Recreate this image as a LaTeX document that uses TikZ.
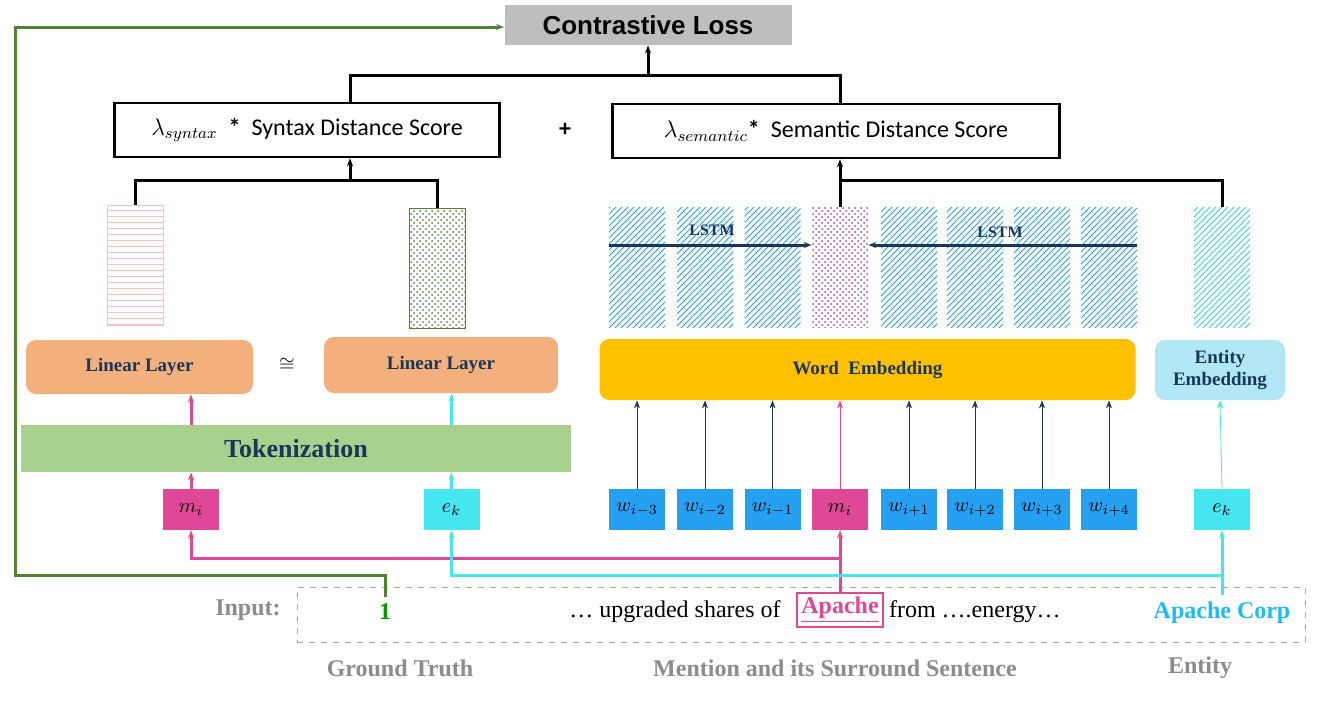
\documentclass[tikz,border=0pt]{standalone}
\usepackage{fontspec}
\setmainfont{Liberation Serif}
\newfontfamily\sansf{Liberation Sans}
\newfontfamily\calf{Carlito}
\usetikzlibrary{patterns,arrows.meta}
\definecolor{lossgray}{RGB}{190,190,190}
\definecolor{tgreen}{RGB}{84,130,53}
\definecolor{mpink}{RGB}{222,72,150}
\definecolor{ecyan}{RGB}{70,230,240}
\definecolor{wblue}{RGB}{38,160,240}
\definecolor{darkb}{RGB}{25,55,90}
\definecolor{linorange}{RGB}{244,176,124}
\definecolor{tokgreen}{RGB}{169,209,142}
\definecolor{embyellow}{RGB}{255,192,0}
\definecolor{entblue}{RGB}{178,232,246}
\definecolor{labgray}{RGB}{140,140,140}
\definecolor{violet2}{RGB}{150,70,180}
\begin{document}
\begin{tikzpicture}[x=0.5pt,y=-0.5pt]
    % 样式
    \tikzset{
        score/.style={draw=black, line width=1.2pt, fill=white, minimum height=27pt, font=\calf\fontsize{12}{14}\selectfont},
        layer/.style={rounded corners=5pt, draw=none, font=\bfseries\fontsize{9.5}{11}\selectfont, text=darkb},
        vec/.style={minimum width=28pt, minimum height=60pt, inner sep=0pt},
        tok/.style={minimum width=28pt, minimum height=20.5pt, inner sep=0pt, font=\fontsize{10}{12}\selectfont},
        lab/.style={font=\bfseries\fontsize{12}{14}\selectfont, text=labgray},
        tree/.style={draw=black, line width=1.5pt},
        up/.style={-{Stealth[length=4pt]}},
    }
    \path[use as bounding box] (0,0) rectangle (1318,703);

    % 损失
    \node[fill=lossgray, minimum width=143.5pt, minimum height=20pt, font=\sansf\bfseries\fontsize{13}{15}\selectfont] (loss) at (648,25) {Contrastive Loss};
    \node[score, minimum width=192.5pt] (syn) at (307,130) {$\lambda_{syntax}$ \ \textbf{*} \ Syntax Distance Score};
    \node[score, minimum width=223.5pt] (sem) at (836,131) {$\lambda_{semantic}$\textbf{*} \ Semantic Distance Score};
    \node[font=\calf\bfseries\fontsize{12}{14}\selectfont] (plus) at (565,130) {+};
    \draw[tree] (syn.north -| 350,0) -- (350,75) -- (840,75) -- (sem.north -| 840,0);
    \draw[tree, up] (648,75) -- (loss.south);

    % 句法向量
    \node[vec, draw=pink, pattern=horizontal lines, pattern color=pink] (vm) at (135,265) {};
    \node[vec, draw=tgreen, pattern=crosshatch dots, pattern color=tgreen] (ve) at (437,268) {};
    \draw[tree] (vm.north) -- (135,180) -- (437,180) -- (ve.north);
    \draw[tree, up] (350,180) -- (syn.south -| 350,0);

    % 线性层
    \node[layer, fill=linorange, minimum width=113.5pt, minimum height=27pt] (lin1) at (139.5,367) {Linear Layer};
    \node[layer, fill=linorange, minimum width=117pt, minimum height=28pt] (lin2) at (441,365) {Linear Layer};
    \node[inner sep=0pt] (cong) at (287,365) {$\cong$};
    \node[fill=tokgreen, minimum width=275pt, minimum height=23.5pt, font=\bfseries\fontsize{13}{15}\selectfont, text=darkb] (tokz) at (296,448.5) {Tokenization};
    \node[tok, fill=mpink] (tm) at (191,509.5) {$m_i$};
    \node[tok, fill=ecyan] (te) at (451.5,509.5) {$e_k$};
    \draw[mpink, line width=1.5pt, up] (tm.north) -- (tm.north |- tokz.south);
    \draw[ecyan, line width=1.5pt, up] (te.north) -- (te.north |- tokz.south);
    \draw[mpink, line width=1.5pt, up] (tm.north |- tokz.north) -- (tm.north |- lin1.south);
    \draw[ecyan, line width=1.5pt, up] (te.north |- tokz.north) -- (te.north |- lin2.south);

    % 语义部分
    \node[layer, fill=embyellow, minimum width=268pt, minimum height=30.5pt] (wemb) at (867.5,369.5) {Word\ \ Embedding};
    \node[layer, fill=entblue, minimum width=65pt, minimum height=30pt, align=center] (eemb) at (1220,370) {Entity\\Embedding};
    \foreach \cx/\lbl/\n in {637/{i-3}/1, 705/{i-2}/2, 772.5/{i-1}/3, 909/{i+1}/5, 975/{i+2}/6, 1042/{i+3}/7, 1109/{i+4}/8} {
        \node[vec, pattern=north east lines, pattern color=wblue] (h\n) at (\cx,267) {};
        \node[tok, fill=wblue] (w\n) at (\cx,509.5) {$w_{\lbl}$};
        \draw[darkb, up] (w\n.north) -- (w\n.north |- wemb.south);
    }
    \node[vec, pattern=crosshatch dots, pattern color=violet2] (h4) at (840,267) {};
    \node[tok, fill=mpink] (w4) at (840,509.5) {$m_i$};
    \draw[mpink, up] (w4.north) -- (w4.north |- wemb.south);
    \node[vec, pattern=north east lines, pattern color=ecyan!80!teal] (hent) at (1222,267) {};
    \node[tok, fill=ecyan] (went) at (1222,509.5) {$e_k$};
    \draw[ecyan, up] (went.north) -- (eemb.south);
    \draw[tree] (h4.north) -- (840,180) -- (1222,180) -- (hent.north);
    \draw[tree, up] (840,180) -- (sem.south -| 840,0);
    \draw[darkb, line width=1.5pt, up] (h1.west |- 0,245) -- (h4.west |- 0,245);
    \draw[darkb, line width=1.5pt, up] (h8.east |- 0,245) -- (h4.east |- 0,245);
    \node[font=\bfseries\fontsize{8}{9}\selectfont, text=darkb] (lstm1) at (712,230) {LSTM};
    \node[font=\bfseries\fontsize{8}{9}\selectfont, text=darkb] (lstm2) at (1000,232) {LSTM};

    % 输入
    \node[draw=gray!70, dashed, minimum width=504pt, minimum height=27.5pt] (inp) at (801,614.5) {};
    \node[lab] (inlab) at (248,610) {Input:};
    \node[font=\bfseries\fontsize{12}{14}\selectfont, text=green!60!black] (gt) at (385,612) {1};
    \node[font=\fontsize{12}{14}\selectfont] (sent) at (675,612) {\dots\ upgraded shares of};
    \node[draw=mpink, line width=1pt, inner sep=2pt, font=\bfseries\fontsize{12}{14}\selectfont, text=mpink] (apache) at (840,610) {\underline{Apache}};
    \node[font=\fontsize{12}{14}\selectfont, anchor=west] (sent2) at (882,612) {from \dots.energy\dots};
    \node[font=\bfseries\fontsize{12}{14}\selectfont, text=wblue!70!cyan] (corp) at (1222,613) {Apache Corp};
    \node[lab] (l1) at (400,668) {Ground Truth};
    \node[lab] (l2) at (835,668) {Mention and its Surround Sentence};
    \node[lab] (l3) at (1200,668) {Entity};

    % 连线
    \draw[tgreen, line width=1.5pt, up] (gt.north) -- (385,575) -- (15,575) -- (15,27) -- (loss.west |- 0,27);
    \draw[mpink, line width=1.5pt, up] (apache.north) -- (w4.south);
    \draw[mpink, line width=1.5pt, up] (840,558) -- (191,558) -- (tm.south);
    \draw[ecyan, line width=1.5pt, up] (corp.north) -- (went.south);
    \draw[ecyan, line width=1.5pt, up] (1222,575) -- (451.5,575) -- (te.south);
\end{tikzpicture}
\end{document}
